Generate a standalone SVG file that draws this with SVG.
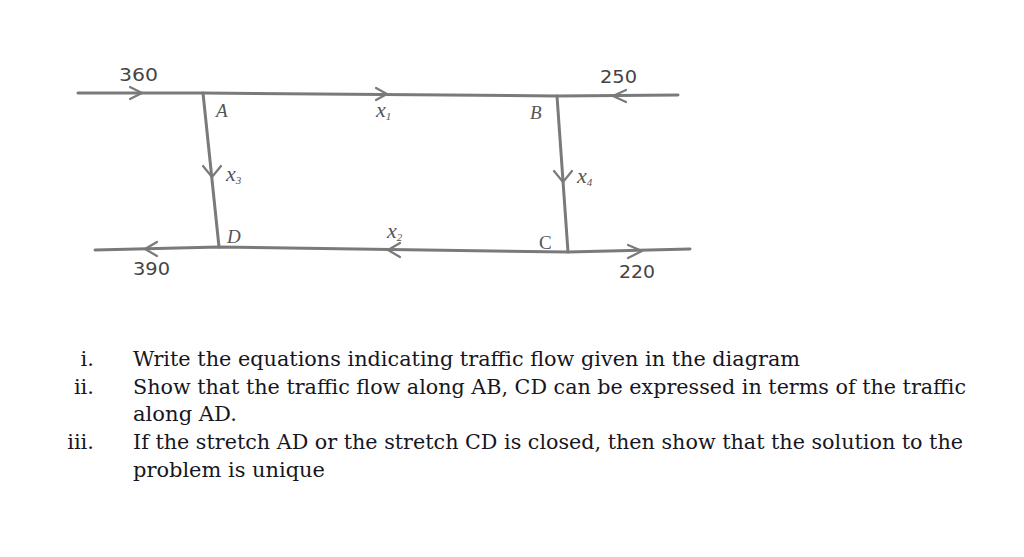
<svg xmlns="http://www.w3.org/2000/svg" width="1024" height="557" viewBox="0 0 1024 557">
<style>
.road{fill:none;stroke:#7a7a7a;stroke-width:3;stroke-linecap:round;stroke-linejoin:round}
.chev{fill:none;stroke:#7a7a7a;stroke-width:2.2;stroke-linecap:round;stroke-linejoin:round}
.num{font-family:"DejaVu Sans","Liberation Sans",sans-serif;font-size:18px;fill:#444}
.lbl{font-family:"Liberation Serif","DejaVu Serif",serif;font-size:19px;fill:#555}
.it{font-style:italic}
.xv{font-size:22px}
.sub{font-size:11px}
.q{font-family:"DejaVu Serif","Liberation Serif",serif;font-size:21px;fill:#161622}
</style>
<rect width="1024" height="557" fill="#ffffff"/>
<g id="connectors">
<polyline class="road" points="78,93 203,93 557,96 678,95"/>
<polyline class="road" points="95,250 219,247 568,252 690,249"/>
<line class="road" x1="203" y1="93" x2="219" y2="247"/>
<line class="road" x1="557" y1="96" x2="568" y2="252"/>
<polyline class="chev" points="130,87 142,93 130,99"/>
<polyline class="chev" points="376,88 387,94 376,100"/>
<polyline class="chev" points="626,90 613,96 626,102"/>
<polyline class="chev" points="203,166 212,177 221,166"/>
<polyline class="chev" points="554,171 563,182 572,171"/>
<polyline class="chev" points="157,242 145,249 157,256"/>
<polyline class="chev" points="400,243 388,250 400,257"/>
<polyline class="chev" points="628,245 642,251 628,258"/>
</g>
<g id="node-A"><text class="lbl it" x="216" y="117">A</text></g>
<g id="node-B"><text class="lbl it" x="530" y="119">B</text></g>
<g id="node-C"><text class="lbl" x="539" y="249">C</text></g>
<g id="node-D"><text class="lbl it" x="227" y="243">D</text></g>
<g id="flow-labels">
<text class="num" x="119" y="81" textLength="39" lengthAdjust="spacingAndGlyphs">360</text>
<text class="num" x="600" y="83" textLength="37" lengthAdjust="spacingAndGlyphs">250</text>
<text class="num" x="133" y="275" textLength="37" lengthAdjust="spacingAndGlyphs">390</text>
<text class="num" x="619" y="278" textLength="36" lengthAdjust="spacingAndGlyphs">220</text>
<text class="lbl it xv" x="376" y="117">x<tspan class="sub" dy="3">1</tspan></text>
<text class="lbl it xv" x="226" y="181">x<tspan class="sub" dy="3">3</tspan></text>
<text class="lbl it xv" x="577" y="183">x<tspan class="sub" dy="3">4</tspan></text>
<text class="lbl it xv" x="387" y="238">x<tspan class="sub" dy="3">2</tspan></text>
</g>
<g id="questions">
<text class="q" x="94" y="366" text-anchor="end">i.</text>
<text class="q" x="94" y="394" text-anchor="end">ii.</text>
<text class="q" x="94" y="449" text-anchor="end">iii.</text>
<text class="q" x="133" y="366" textLength="667" lengthAdjust="spacingAndGlyphs">Write the equations indicating traffic flow given in the diagram</text>
<text class="q" x="133" y="394" textLength="833" lengthAdjust="spacingAndGlyphs">Show that the traffic flow along AB, CD can be expressed in terms of the traffic</text>
<text class="q" x="133" y="421" textLength="104" lengthAdjust="spacingAndGlyphs">along AD.</text>
<text class="q" x="133" y="449" textLength="830" lengthAdjust="spacingAndGlyphs">If the stretch AD or the stretch CD is closed, then show that the solution to the</text>
<text class="q" x="133" y="477" textLength="192" lengthAdjust="spacingAndGlyphs">problem is unique</text>
</g>
</svg>
